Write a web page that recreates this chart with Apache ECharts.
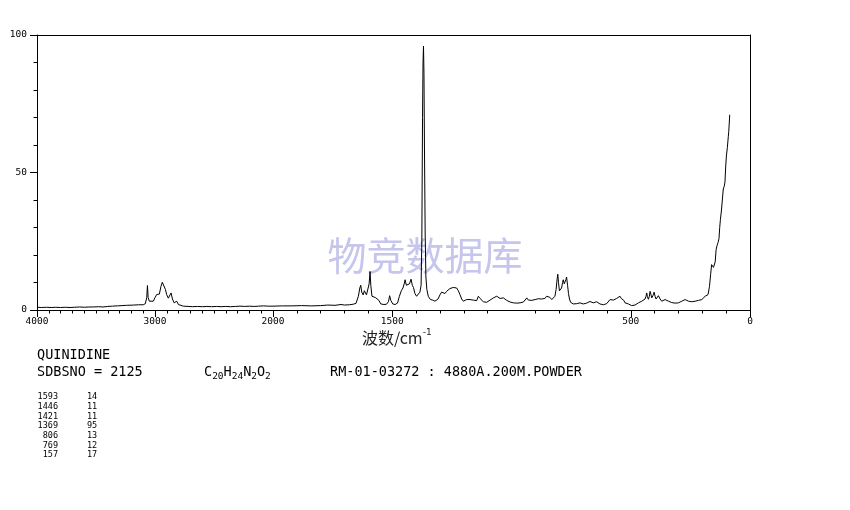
<!DOCTYPE html>
<html><head><meta charset="utf-8">
<script src="https://cdn.jsdelivr.net/npm/echarts@6/dist/echarts.min.js"></script>
<style>html,body{margin:0;padding:0;background:#fff}#c{width:850px;height:510px}</style>
</head><body><div id="c"></div>
<script>
// ---- data ----
const wavenumbers = [
4000,3960,3920,3880,3840,3800,3760,3720,3680,3640,3600,3560,3520,3480,3440,3400,3360,3320,3280,3240,3180,3140,3100,3082,3070,3064,3058,3048,3036,3014,3000,2986,2975,2963,2950,2938,2924,2912,2901,2887,2875,2864,2852,2838,2828,2816,2802,2788,2760,2720,2680,2640,2600,2560,2520,2480,2440,2400,2360,2320,2280,2240,2200,2160,2120,2080,2040,2000,
1960,1920,1880,1840,1800,1770,1740,1715,1700,1680,1664,1652,1648,1642,1636,1632,1628,1622,1617,1613,1608,1602,1597,1593,1590,1585,1578,1570,1563,1556,1548,1535,1524,1516,1511,1506,1498,1488,1478,1470,1462,1455,1450,1446,1441,1434,1428,1421,1416,1411,1405,1398,1390,1384,1379,1376,1373,1371,1369,1367,1365,1362,1359,1355,1349,1340,1330,1321,1308,1300,1293,1286,1279,1272,1265,1258,1251,1244,1237,1230,1223,1216,1209,1202,1195,1188,1180,1174,1167,1160,1153,1146,1139,1132,1125,1118,1111,1104,1097,1090,1083,1076,1069,1062,1055,1048,1041,1034,1027,1020,1013,1006,999,992,985,978,971,964,957,950,943,936,929,922,915,908,901,894,887,880,874,867,860,853,846,839,831,825,818,813,809,806,803,799,795,790,786,783,779,775,772,769,765,761,757,752,748,741,734,727,720,713,706,699,692,685,677,671,664,657,650,643,636,629,622,615,608,601,594,587,580,573,566,559,552,545,540,534,529,524,517,510,503,496,489,482,475,468,461,454,447,440,436,433,430,426,422,419,415,412,407,402,398,394,389,384,377,370,363,356,349,342,335,328,321,314,307,300,293,286,279,272,265,258,251,244,237,230,223,216,209,202,195,188,181,176,170,165,161,157,153,149,146,142,138,134,130,127,124,120,116,112,108,105,102,99,95,91,89,87,85];
const intensities = [
1.0,0.9,1.0,0.9,1.0,0.9,1.0,0.9,1.0,1.1,1.0,1.1,1.1,1.2,1.1,1.3,1.4,1.5,1.6,1.7,1.8,1.9,1.9,2.3,4.5,8.9,4.5,3.2,3.0,3.2,4.5,5.6,5.2,5.8,8.5,10.1,9.6,7.5,5.6,4.3,5.0,6.2,4.0,2.6,2.7,3.2,2.0,1.6,1.4,1.3,1.2,1.3,1.2,1.3,1.2,1.3,1.2,1.3,1.2,1.3,1.4,1.3,1.4,1.3,1.4,1.5,1.4,1.4,
1.5,1.5,1.6,1.5,1.6,1.8,1.7,2.0,1.8,1.9,2.1,2.4,2.8,5.0,8.0,9.0,6.5,5.5,7.0,7.5,5.5,5.5,9.5,14,9.0,5.0,4.8,4.5,5.2,3.5,2.2,2.0,2.1,3.0,5.2,3.5,2.2,2.0,2.5,5.0,7.0,8.0,9.5,11,9.0,8.5,9.5,11.2,9.0,8.2,6.0,5.0,5.2,6.5,9.0,25,70,90,96,86,60,28,12,7.5,5.0,3.8,3.6,3.2,4.0,5.5,6.5,5.8,6.0,6.8,7.4,7.8,8.4,8.2,8.6,8.0,7.0,5.6,4.0,3.2,3.4,3.8,3.5,3.8,4.4,3.6,2.9,3.4,5.0,4.2,3.6,3.0,2.6,2.8,3.2,3.6,4.0,4.4,4.0,5.0,4.6,4.2,4.6,4.4,3.8,3.5,3.2,2.9,2.7,2.6,2.5,2.5,2.4,2.6,2.9,2.9,3.6,4.4,3.6,3.2,3.5,3.6,3.8,4.0,4.1,4.4,4.0,3.8,4.2,5.0,5.6,4.6,3.8,4.4,5.0,7.5,11,13,10,7.0,7.2,8.0,10,11,9.5,9.5,11,12,9,6,4.0,2.8,2.5,2.2,2.2,2.3,2.4,2.6,2.3,2.2,2.3,2.5,2.9,3.1,2.8,2.6,2.8,3.0,2.5,2.2,2.0,1.9,1.8,2.3,2.9,3.8,3.5,3.6,3.9,4.2,4.5,5.0,4.2,4.4,3.5,2.6,2.3,2.2,1.9,1.6,1.7,1.8,2.2,2.6,2.9,3.2,3.6,4.0,5.0,6.2,4.8,3.9,5.0,6.8,5.5,4.4,5.2,6.5,5.0,4.0,4.4,5.2,4.0,3.2,3.4,3.8,3.5,3.2,3.0,2.7,2.4,2.5,2.6,2.6,2.7,3.2,3.6,3.8,3.5,3.2,3.0,3.0,3.0,3.2,3.4,3.5,3.7,3.8,4.4,5.0,5.2,5.6,8.5,13,16.5,17,15.5,16,17.5,22,23.5,24.5,26,30,33,36,40,44,45,46.5,52,56,59,63,65,68,71];
const xTickLabelsLeft = [4000, 3000, 2000];
const xTickLabelsRight = [1500, 500, 0];
const xMajorTicksRight = [2000, 1500, 500, 0];
const yTickLabels = [0, 50, 100];
const compoundName = 'QUINIDINE';
const sdbsLine = 'SDBSNO = 2125';
const formulaParts = [['C', '20'], ['H', '24'], ['N', '2'], ['O', '2']];
const conditionLine = 'RM-01-03272 : 4880A.200M.POWDER';
const peakWavenumbers = [1593, 1446, 1421, 1369, 806, 769, 157];
const peakIntensities = [14, 11, 11, 95, 13, 12, 17];
const axisTitle = '波数/cm';
const axisTitleSup = '-1';
const watermarkText = '物竞数据库';

// ---- build ----
const leftData = [], rightData = [];
wavenumbers.forEach((w, i) => {
  if (w >= 2000) leftData.push([w, intensities[i]]);
  if (w <= 2000) rightData.push([w, intensities[i]]);
});

const MONO = 'DejaVu Sans Mono';
const lineStyle = { color: '#000', width: 1 };
const tickFont = { fontFamily: MONO, fontSize: 9.5, color: '#000' };

function bottomX(grid, min, max, interval, split, labels, majorTicks) {
  const tick = { show: true, inside: false, length: 7, lineStyle: lineStyle };
  if (majorTicks) tick.customValues = majorTicks;
  return {
    gridIndex: grid, type: 'value', min: min, max: max, inverse: true, interval: interval,
    position: 'bottom',
    axisLine: { show: true, onZero: false, lineStyle: lineStyle },
    axisTick: tick,
    minorTick: { show: true, splitNumber: split, length: 3.5, lineStyle: lineStyle },
    axisLabel: Object.assign({ margin: 7, formatter: v => labels.includes(v) ? String(v) : '' }, tickFont),
    splitLine: { show: false }, minorSplitLine: { show: false }
  };
}
function topX(grid, min, max) {
  return {
    gridIndex: grid, type: 'value', min: min, max: max, inverse: true, position: 'top',
    axisLine: { show: true, onZero: false, lineStyle: lineStyle },
    axisTick: { show: false }, axisLabel: { show: false }, splitLine: { show: false }
  };
}

// text measuring for the formula with subscripts
const measureCtx = document.createElement('canvas').getContext('2d');
function textWidth(t, size) { measureCtx.font = size + 'px "' + MONO + '"'; return measureCtx.measureText(t).width; }

const graphics = [];
graphics.push({
  type: 'text', x: 425, y: 255, z: 0,
  style: { text: watermarkText, fontFamily: 'Noto Sans CJK SC', fontSize: 39, fill: '#c6c5ec',
           textAlign: 'center', verticalAlign: 'middle' }
});
graphics.push({
  type: 'text', x: 362, y: 337, z: 10,
  style: {
    text: '{a|' + axisTitle + '}{b|' + axisTitleSup + '}',
    textAlign: 'left', verticalAlign: 'middle',
    rich: {
      a: { fontFamily: 'Noto Sans CJK SC', fontSize: 16, fill: '#222', lineHeight: 18, verticalAlign: 'bottom' },
      b: { fontFamily: 'DejaVu Sans', fontSize: 9, fill: '#222', lineHeight: 9, verticalAlign: 'top' }
    }
  }
});
graphics.push({ type: 'text', x: 37, y: 355, style: { text: compoundName, fontFamily: MONO, fontSize: 13.5, fill: '#000', verticalAlign: 'middle' } });
graphics.push({ type: 'text', x: 37, y: 372, style: { text: sdbsLine, fontFamily: MONO, fontSize: 13.5, fill: '#000', verticalAlign: 'middle' } });
graphics.push({ type: 'text', x: 330, y: 372, style: { text: conditionLine, fontFamily: MONO, fontSize: 13.5, fill: '#000', verticalAlign: 'middle' } });
let fx = 204;
formulaParts.forEach(p => {
  graphics.push({ type: 'text', x: fx, y: 372, style: { text: p[0], fontFamily: MONO, fontSize: 13.5, fill: '#000', verticalAlign: 'middle' } });
  fx += textWidth(p[0], 13.5);
  graphics.push({ type: 'text', x: fx, y: 376.5, style: { text: p[1], fontFamily: MONO, fontSize: 9.5, fill: '#000', verticalAlign: 'middle' } });
  fx += textWidth(p[1], 9.5);
});
peakWavenumbers.forEach((w, i) => {
  const y = 397 + i * 9.7;
  graphics.push({ type: 'text', x: 58, y: y, style: { text: String(w), fontFamily: MONO, fontSize: 8.5, fill: '#000', textAlign: 'right', verticalAlign: 'middle' } });
  graphics.push({ type: 'text', x: 87, y: y, style: { text: String(peakIntensities[i]), fontFamily: MONO, fontSize: 8.5, fill: '#000', textAlign: 'left', verticalAlign: 'middle' } });
});

const chart = echarts.init(document.getElementById('c'), null, { renderer: 'canvas' });
chart.setOption({
  animation: false,
  backgroundColor: '#fff',
  grid: [
    { left: 37, top: 35, width: 236, height: 275, containLabel: false, outerBoundsMode: 'none' },
    { left: 273, top: 35, width: 477, height: 275, containLabel: false, outerBoundsMode: 'none' }
  ],
  xAxis: [
    bottomX(0, 2000, 4000, 1000, 10, xTickLabelsLeft, null),
    bottomX(1, 0, 2000, 500, 5, xTickLabelsRight, xMajorTicksRight),
    topX(0, 2000, 4000),
    topX(1, 0, 2000)
  ],
  yAxis: [
    {
      gridIndex: 0, type: 'value', min: 0, max: 100, interval: 50, position: 'left',
      axisLine: { show: true, onZero: false, lineStyle: lineStyle },
      axisTick: { show: true, length: 7, lineStyle: lineStyle },
      minorTick: { show: true, splitNumber: 5, length: 3.5, lineStyle: lineStyle },
      axisLabel: Object.assign({ margin: 10, formatter: v => yTickLabels.includes(v) ? String(v) : '' }, tickFont),
      splitLine: { show: false }, minorSplitLine: { show: false }
    },
    {
      gridIndex: 1, type: 'value', min: 0, max: 100, position: 'right',
      axisLine: { show: true, onZero: false, lineStyle: lineStyle },
      axisTick: { show: false }, axisLabel: { show: false }, splitLine: { show: false }
    }
  ],
  series: [
    { type: 'line', xAxisIndex: 0, yAxisIndex: 0, data: leftData, symbol: 'none', lineStyle: lineStyle, z: 5 },
    { type: 'line', xAxisIndex: 1, yAxisIndex: 1, data: rightData, symbol: 'none', lineStyle: lineStyle, z: 5 }
  ],
  graphic: graphics
});
</script>
</body></html>
